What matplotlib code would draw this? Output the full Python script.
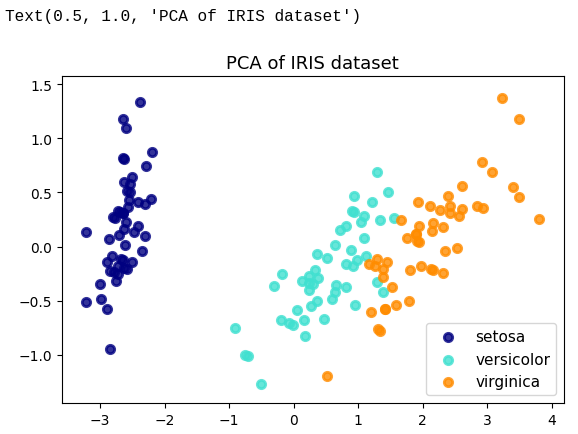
import matplotlib
matplotlib.use("Agg")
from matplotlib import pyplot as plt

target_names = ["setosa", "versicolor", "virginica"]
colors = ["navy", "turquoise", "darkorange"]

setosa_x = [-2.684, -2.714, -2.889, -2.745, -2.729, -2.281, -2.821, -2.626, -2.886, -2.673,
            -2.507, -2.613, -2.786, -3.224, -2.645, -2.386, -2.624, -2.648, -2.200, -2.588,
            -2.310, -2.544, -3.216, -2.303, -2.356, -2.507, -2.469, -2.562, -2.640, -2.632,
            -2.587, -2.410, -2.649, -2.599, -2.637, -2.866, -2.625, -2.801, -2.981, -2.590,
            -2.770, -2.849, -2.997, -2.406, -2.209, -2.714, -2.538, -2.839, -2.543, -2.703]
setosa_y = [0.319, -0.177, -0.145, -0.318, 0.327, 0.741, -0.089, 0.163, -0.578, -0.114,
            0.645, 0.015, -0.235, -0.511, 1.179, 1.338, 0.811, 0.312, 0.873, 0.514,
            0.391, 0.433, 0.133, 0.099, -0.037, -0.146, 0.131, 0.368, 0.312, -0.197,
            -0.204, 0.411, 0.813, 1.093, -0.121, 0.069, 0.599, 0.269, -0.488, 0.229,
            0.264, -0.941, -0.342, 0.189, 0.437, -0.250, 0.504, -0.228, 0.579, 0.108]

versicolor_x = [1.285, 0.932, 1.464, 0.183, 1.088, 0.642, 1.095, -0.749, 1.044, -0.009,
                -0.508, 0.512, 0.265, 0.985, -0.174, 0.928, 0.660, 0.236, 0.945, 0.045,
                1.116, 0.358, 1.298, 0.922, 0.715, 0.900, 1.332, 1.558, 0.813, -0.306,
                -0.068, -0.190, 0.136, 1.380, 0.588, 0.807, 1.221, 0.815, 0.246, 0.166,
                0.465, 0.891, 0.231, -0.705, 0.357, 0.332, 0.376, 0.643, -0.906, 0.299]
versicolor_y = [0.685, 0.318, 0.504, -0.828, 0.075, -0.418, 0.283, -1.005, 0.228, -0.723,
                -1.266, -0.104, -0.550, -0.125, -0.255, 0.467, -0.353, -0.334, -0.543, -0.584,
                -0.085, -0.069, -0.328, -0.183, 0.149, 0.329, 0.244, 0.267, -0.163, -0.368,
                -0.705, -0.680, -0.314, -0.421, -0.484, 0.194, 0.408, -0.372, -0.269, -0.682,
                -0.671, -0.034, -0.404, -1.012, -0.505, -0.213, -0.293, 0.018, -0.756, -0.349]

virginica_x = [2.531, 1.415, 2.617, 1.972, 2.350, 3.397, 0.521, 2.933, 2.321, 2.917,
               1.662, 1.803, 2.166, 1.346, 1.586, 1.904, 1.950, 3.487, 3.796, 1.301,
               2.428, 1.199, 3.500, 1.389, 2.275, 2.614, 1.259, 1.291, 2.124, 2.388,
               2.842, 3.231, 2.159, 1.444, 1.781, 3.076, 2.144, 1.905, 1.169, 2.108,
               2.314, 1.922, 1.415, 2.563, 2.419, 1.944, 1.527, 1.764, 1.901, 1.390]
virginica_y = [-0.010, -0.575, 0.344, -0.180, -0.040, 0.551, -1.193, 0.356, -0.244, 0.783,
               0.242, -0.216, 0.216, -0.777, -0.540, 0.119, 0.042, 1.176, 0.257, -0.761,
               0.378, -0.606, 0.461, -0.204, 0.335, 0.561, -0.180, -0.117, -0.210, 0.465,
               0.375, 1.374, -0.217, -0.143, -0.500, 0.688, 0.140, 0.049, -0.165, 0.372,
               0.184, 0.409, -0.575, 0.278, 0.305, 0.188, -0.375, 0.079, 0.117, -0.283]

xs = [setosa_x, versicolor_x, virginica_x]
ys = [setosa_y, versicolor_y, virginica_y]

fig = plt.figure(figsize=(5.78, 4.35), dpi=100)
ax = fig.add_axes([61.7 / 578, 31 / 435, 502.3 / 578, 327 / 435])

for x, y, color, name in zip(xs, ys, colors, target_names):
    ax.scatter(x, y, color=color, alpha=0.8, lw=2, label=name)

ax.set_xlim(-3.594, 4.19)
ax.set_ylim(-1.444, 1.574)
ax.legend(loc="lower right", shadow=False, scatterpoints=1, fontsize=11)
ax.set_title("PCA of IRIS dataset", fontsize=13)

# the notebook echo line above the figure
fig.text(5 / 578, 1 - 16 / 435, "Text(0.5, 1.0, 'PCA of IRIS dataset')",
         family="Liberation Mono", fontsize=11.6, va="center", ha="left")

fig.savefig("out.png")
